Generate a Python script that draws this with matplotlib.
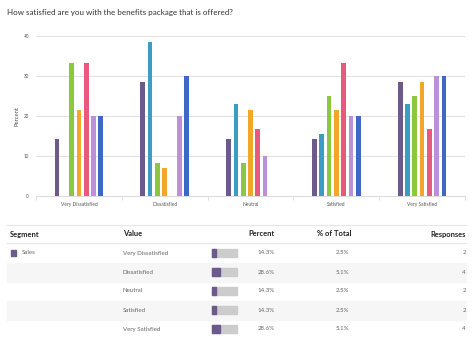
import numpy as np
import matplotlib.pyplot as plt
from matplotlib.patches import Rectangle

plt.rcParams['font.family'] = ['Lato', 'DejaVu Sans']

# Percent of each answer, one list per segment colour
categories = ['Very Dissatisfied', 'Dissatisfied', 'Neutral', 'Satisfied', 'Very Satisfied']
seg_purple = [14.3, 28.6, 14.3, 14.3, 28.6]
seg_teal = [0, 38.5, 23.1, 15.4, 23.1]
seg_green = [33.3, 8.3, 8.3, 25.0, 25.0]
seg_orange = [21.4, 7.1, 21.4, 21.4, 28.6]
seg_pink = [33.3, 0, 16.7, 33.3, 16.7]
seg_lavender = [20.0, 20.0, 10.0, 20.0, 30.0]
seg_blue = [20.0, 30.0, 0, 20.0, 30.0]

colors = ['#6d5a8c', '#3b9dc2', '#8dc63f', '#f4a62a', '#e9587d', '#bb90d8', '#3d68c6']
series = [seg_purple, seg_teal, seg_green, seg_orange, seg_pink, seg_lavender, seg_blue]

# Table rows for the Sales segment
table_values = categories
table_percent = [14.3, 28.6, 14.3, 14.3, 28.6]
table_total = [2.5, 5.1, 2.5, 2.5, 5.1]
table_responses = [2, 4, 2, 2, 4]

fig = plt.figure(figsize=(4.74, 3.40), dpi=100)
fig.text(7 / 474, 1 - 13 / 340, 'How satisfied are you with the benefits package that is offered?',
         fontsize=5.8, color='#333333', va='center', ha='left')

ax = fig.add_axes([36 / 474, 1 - 196 / 340, 429 / 474, 160 / 340])
x = np.arange(len(categories))
bw = 0.055
step = 0.085
for i, (vals, c) in enumerate(zip(series, colors)):
    ax.bar(x + (i - 3) * step, vals, width=bw, color=c, zorder=3)

ax.set_xlim(-0.5, 4.5)
ax.set_ylim(0, 40)
ax.set_yticks([0, 10, 20, 30, 40])
ax.tick_params(axis='y', length=0, labelsize=3.3, labelcolor='#555555', pad=5)
ax.set_xticks(x)
ax.set_xticklabels(categories)
ax.tick_params(axis='x', length=0, labelsize=3.5, labelcolor='#555555', pad=4)
ax.set_xticks(np.arange(-0.5, 5, 1), minor=True)
ax.tick_params(axis='x', which='minor', length=3, color='#dddddd', width=0.6)
ax.grid(axis='y', color='#e3e3e3', linewidth=0.8, zorder=0)
for s in ['top', 'right', 'left']:
    ax.spines[s].set_visible(False)
ax.spines['bottom'].set_color('#dddddd')
ax.spines['bottom'].set_linewidth(0.8)
ax.set_ylabel('Percent', fontsize=4.2, color='#555555', labelpad=3)

# Table area in pixel units
tab = fig.add_axes([0, 0, 1, 1])
tab.set_xlim(0, 474)
tab.set_ylim(340, 0)
tab.axis('off')

tab.plot([7, 466], [225, 225], color='#e6e6e6', linewidth=0.8)
tab.plot([7, 466], [243, 243], color='#e6e6e6', linewidth=0.8)
hdr = dict(fontsize=5.4, fontweight='bold', color='#222222', va='center')
tab.text(10, 234, 'Segment', ha='left', **hdr)
tab.text(123, 234, 'Value', ha='left', **hdr)
tab.text(275, 234, 'Percent', ha='right', **hdr)
tab.text(317, 234, '% of Total', ha='left', **hdr)
tab.text(466, 234, 'Responses', ha='right', **hdr)

row_h = 19
body = dict(fontsize=4.4, color='#666666', va='center')
for r in range(len(table_values)):
    yc = 253 + r * row_h
    if r % 2 == 1:
        tab.add_patch(Rectangle((7, yc - row_h / 2), 459, row_h, color='#f6f6f6', zorder=0))
    tab.text(123, yc, table_values[r], ha='left', **body)
    bar_len = 24.5
    tab.add_patch(Rectangle((212.5, yc - 4), bar_len, 8, color='#cccccc', zorder=1))
    tab.add_patch(Rectangle((212.5, yc - 4), bar_len * table_percent[r] / 100, 8,
                            color=colors[0], zorder=2))
    tab.text(275, yc, f'{table_percent[r]:.1f}%', ha='right', **body)
    tab.text(349, yc, f'{table_total[r]:.1f}%', ha='right', **body)
    tab.text(466, yc, str(table_responses[r]), ha='right', **body)

tab.add_patch(Rectangle((11, 249.5), 5.5, 6, color=colors[0]))
tab.text(22, 253, 'Sales', ha='left', **body)

fig.savefig('out.png', dpi=100)
